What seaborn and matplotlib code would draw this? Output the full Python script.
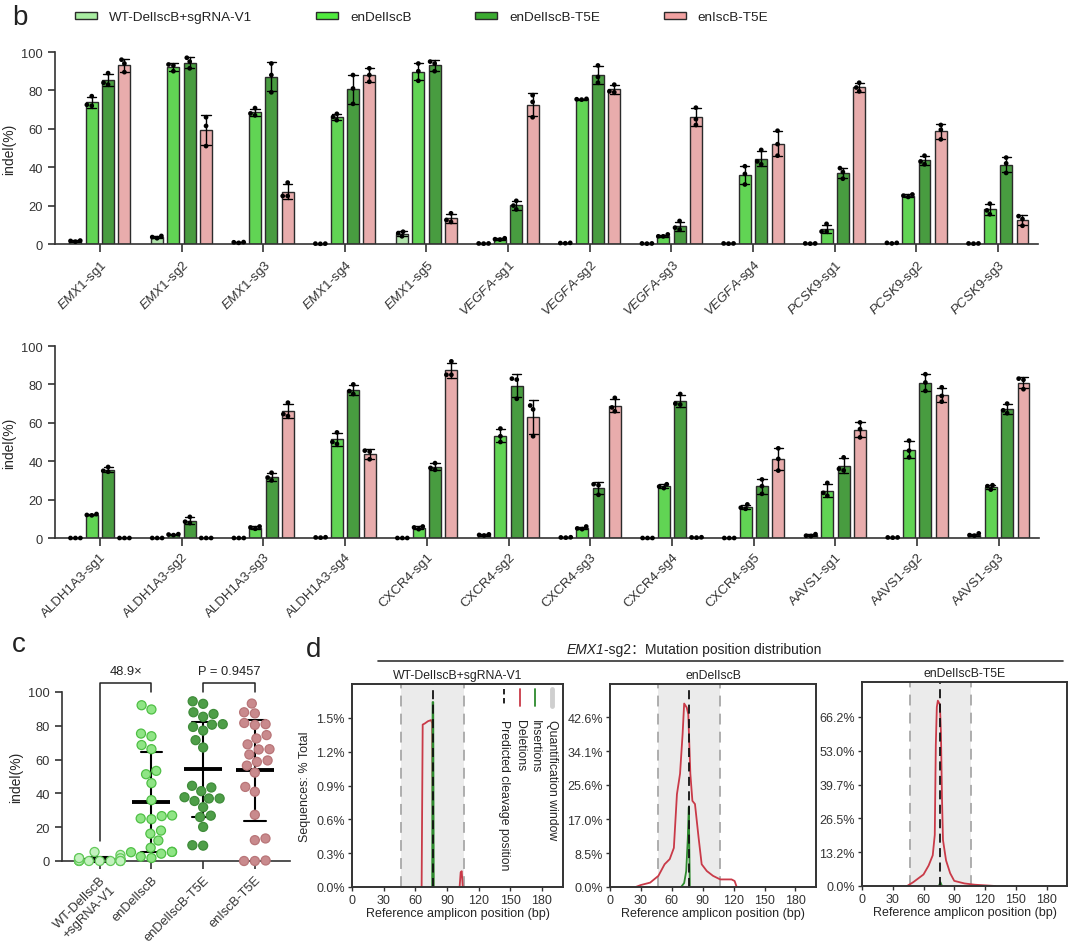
import warnings
import numpy as np
import pandas as pd
import matplotlib
matplotlib.use("Agg")
import matplotlib.pyplot as plt
from matplotlib.patches import Patch
from matplotlib.lines import Line2D
import seaborn as sns

warnings.filterwarnings("ignore")

# ---------------- data ----------------
conditions = ["WT-DelIscB+sgRNA-V1", "enDelIscB", "enDelIscB-T5E", "enIscB-T5E"]
bar_colors = ["#a8eda1", "#50ea3e", "#3bab31", "#f2a2a2"]

top_targets = ["EMX1-sg1", "EMX1-sg2", "EMX1-sg3", "EMX1-sg4", "EMX1-sg5", "VEGFA-sg1",
               "VEGFA-sg2", "VEGFA-sg3", "VEGFA-sg4", "PCSK9-sg1", "PCSK9-sg2", "PCSK9-sg3"]
bot_targets = ["ALDH1A3-sg1", "ALDH1A3-sg2", "ALDH1A3-sg3", "ALDH1A3-sg4", "CXCR4-sg1", "CXCR4-sg2",
               "CXCR4-sg3", "CXCR4-sg4", "CXCR4-sg5", "AAVS1-sg1", "AAVS1-sg2", "AAVS1-sg3"]

top_wt = [[1.2, 1.8, 1.6], [3.0, 4.2, 3.6], [0.6, 1.0, 0.9], [0.1, 0.2, 0.2], [4.0, 5.6, 6.4], [0.2, 0.3, 0.3],
          [0.4, 0.6, 0.5], [0.2, 0.3, 0.3], [0.2, 0.3, 0.3], [0.2, 0.3, 0.3], [0.3, 0.6, 0.6], [0.2, 0.3, 0.3]]
top_en = [[77, 72, 72.5], [93.5, 93, 90], [70.8, 68, 67], [67.8, 66.2, 64.5], [94, 90, 85], [3.0, 2.5, 2.3],
          [75.6, 75.2, 75.4], [5.0, 4.0, 4.0], [40.5, 36.5, 31], [10.5, 6.5, 6.5], [25.8, 25.2, 24.5], [21, 17.5, 15.5]]
top_t5e = [[89, 83, 84], [97, 95, 91.5], [94, 88, 79], [88, 81, 73], [95, 94, 90], [22.5, 20, 18],
           [93, 87, 84], [12, 8.5, 7.5], [49, 43, 41.5], [39.5, 37.5, 34], [46, 43, 41.5], [45, 42, 37]]
top_iscb = [[96, 94, 89.5], [66, 61.5, 51], [32, 25, 25], [91.5, 88, 84.5], [16, 12.5, 11.5], [77.5, 74, 66],
            [83, 79.5, 79], [71, 65, 62], [59, 52, 46], [84, 81.5, 79.5], [62, 59.5, 54.5], [14.5, 13, 9.5]]

bot_wt = [[0, 0, 0], [0, 0, 0], [0, 0, 0], [0.2, 0.4, 0.3], [0, 0, 0], [1.3, 1.9, 1.6],
          [0.2, 0.4, 0.3], [0, 0, 0], [0, 0, 0], [1.0, 1.2, 2.0], [0.2, 0.3, 0.3], [1.2, 1.5, 2.4]]
bot_en = [[12.5, 12, 11.8], [2.0, 1.8, 1.5], [6.0, 5.5, 4.8], [55, 50, 49], [6.0, 5.5, 4.6], [57, 53, 50],
          [6.0, 5.0, 4.6], [28, 26.8, 26], [17.5, 15.8, 15.2], [28.7, 23.5, 22], [50.7, 45.5, 42], [27.5, 27, 25.2]]
bot_t5e = [[37, 35, 34.5], [11, 8.5, 7.8], [34, 31.5, 30], [80, 76.5, 75], [39, 36.5, 35.5], [83, 82.5, 72.5],
           [28, 27.5, 22.5], [75, 70, 69.5], [30.5, 27, 23], [42, 36, 35.2], [85.3, 81, 76.6], [70, 66.5, 65]]
bot_iscb = [[0, 0, 0], [0, 0, 0], [70.5, 64.5, 63.5], [45.5, 45, 41], [92, 85, 85], [69, 67, 53],
            [73, 68, 66], [0.2, 0.4, 0.3], [46.7, 41.2, 35.1], [60.2, 56.7, 52.4], [78.5, 74, 71], [83, 82.4, 77.5]]

# panel c
c_labels = ["WT-DelIscB\n+sgRNA-V1", "enDelIscB", "enDelIscB-T5E", "enIscB-T5E"]
c_face = ["#c4f2bf", "#8fe585", "#4e9e48", "#c98a8d"]
c_edge = ["#63c95a", "#4fbf45", "#3f8c3a", "#b87578"]
c_brackets = [(0, 1, "48.9×"), (2, 3, "P = 0.9457")]
c_leg_low = [(12, 100), (100, 100)]

# panel d: CRISPResso mutation position distribution
d_titles = ["WT-DelIscB+sgRNA-V1", "enDelIscB", "enDelIscB-T5E"]
cut_site = 76.5
quant_window = (46.5, 106.5)
d_yticks = [[0.0, 0.3, 0.6, 0.9, 1.2, 1.5],
            [0.0, 8.5, 17.0, 25.6, 34.1, 42.6],
            [0.0, 13.2, 26.5, 39.7, 53.0, 66.2]]
d_ymax = [1.8, 50.9, 79.8]

d1_del_pos = [66, 67, 69, 72, 75, 76, 77]
d1_del_val = [0, 1.44, 1.45, 1.47, 1.48, 1.45, 0]
d1_bump_pos = [102, 103, 104, 105]
d1_bump_val = [0, 0.13, 0.14, 0]
d1_ins_pos = [76, 76.4, 77, 77.5]
d1_ins_val = [0, 1.64, 1.64, 0]

d2_del_pos = [25, 30, 39, 47, 53, 58, 62, 65, 68, 70.5, 72, 74.5, 76, 78, 80, 82.5, 86, 89, 94, 100,
              107, 118, 121, 123]
d2_del_val = [0, 0.5, 1.1, 2.8, 5.7, 7.0, 9.8, 23.3, 28.4, 38.4, 46.0, 45.0, 43.3, 28.4, 21.6, 20.8,
              12.4, 5.7, 4.0, 2.8, 1.9, 1.9, 1.5, 0]
d2_ins_pos = [69, 72, 74, 75.5, 76.5, 77.5]
d2_ins_val = [0, 1.0, 4.0, 12.0, 20.0, 0]

d3_del_pos = [44, 50, 55, 60, 65, 69, 71, 72, 73, 74, 76, 77, 78, 79, 82, 86, 90, 100, 110, 130]
d3_del_val = [0, 1.5, 3.0, 4.5, 8.0, 12.0, 20.0, 55.0, 70.0, 72.5, 71.0, 60.0, 35.0, 18.0, 10.0,
              5.0, 2.0, 1.0, 0.5, 0]
d3_ins_pos = [75, 76.5, 78]
d3_ins_val = [0, 1.5, 0]

# ---------------- style ----------------
sns.set_style("ticks")
plt.rcParams["font.family"] = ["Liberation Sans", "DejaVu Sans"]
plt.rcParams["mathtext.fontset"] = "custom"
plt.rcParams["mathtext.it"] = "Liberation Sans:italic"
plt.rcParams["mathtext.rm"] = "Liberation Sans"
plt.rcParams["axes.edgecolor"] = "#333333"
plt.rcParams["xtick.color"] = "#333333"
plt.rcParams["ytick.color"] = "#333333"
plt.rcParams["text.color"] = "#222222"

fig = plt.figure(figsize=(10.8, 9.45), dpi=100)
W, H = 1080, 945


def rect(x0, y0, x1, y1):
    # pixel box -> figure fraction
    return [x0 / W, 1 - y1 / H, (x1 - x0) / W, (y1 - y0) / H]


def long_df(targets, reps_by_cond):
    rows = []
    for cond, reps in zip(conditions, reps_by_cond):
        for t, trip in zip(targets, reps):
            for v in trip:
                rows.append((t, cond, v))
    return pd.DataFrame(rows, columns=["target", "condition", "indel"])


def bar_panel(ax, targets, reps_by_cond, italic):
    df = long_df(targets, reps_by_cond)
    sns.barplot(data=df, x="target", y="indel", hue="condition", order=targets,
                hue_order=conditions, palette=bar_colors, errorbar="sd", capsize=0.45,
                width=0.8, gap=0.27, err_kws={"color": "black", "linewidth": 1.0},
                edgecolor="#2b2b2b", linewidth=1.0, legend=False, ax=ax)
    sns.swarmplot(data=df, x="target", y="indel", hue="condition", order=targets,
                  hue_order=conditions, palette=["black"] * 4, dodge=True, size=3.4,
                  legend=False, ax=ax)
    for coll in ax.collections:
        coll.set_clip_on(False)
    for ln in ax.lines:
        ln.set_clip_on(False)
    ax.set_ylim(0, 100)
    ax.set_xlim(-0.55, 11.49)
    ax.set_yticks(range(0, 101, 20))
    if italic:
        labels = ["$\\mathit{%s}$-%s" % tuple(t.split("-")) for t in targets]
    else:
        labels = targets
    ax.set_xticks(range(len(targets)))
    ax.set_xticklabels(labels, rotation=45, ha="right", rotation_mode="anchor", fontsize=9.5)
    ax.tick_params(axis="x", length=6, width=1.2, pad=3)
    ax.tick_params(axis="y", length=5, width=1.2, labelsize=9.3)
    ax.set_xlabel("")
    ax.set_ylabel("indel(%)", fontsize=10)
    for s in ["left", "bottom"]:
        ax.spines[s].set_linewidth(1.2)
    sns.despine(ax=ax)


# ---------------- panel b ----------------
ax_top = fig.add_axes(rect(55, 53, 1038, 245))
bar_panel(ax_top, top_targets, [top_wt, top_en, top_t5e, top_iscb], italic=True)
ax_bot = fig.add_axes(rect(55, 347, 1039, 539))
bar_panel(ax_bot, bot_targets, [bot_wt, bot_en, bot_t5e, bot_iscb], italic=False)

handles = [Patch(facecolor=c, edgecolor="#2b2b2b", linewidth=1.0) for c in bar_colors]
fig.legend(handles, conditions, loc="center left", bbox_to_anchor=(75 / W, 1 - 18 / H),
           ncol=4, frameon=False, fontsize=9.7, handlelength=1.65, handleheight=0.45,
           handletextpad=0.9, columnspacing=4.7, borderpad=0, borderaxespad=0)

# ---------------- panel c ----------------
c_rows = []
for cond, reps in zip(conditions, [top_wt + bot_wt, top_en + bot_en, top_t5e + bot_t5e, top_iscb + bot_iscb]):
    for trip in reps:
        c_rows.append((cond, float(np.mean(trip))))
c_df = pd.DataFrame(c_rows, columns=["group", "indel"])

axc = fig.add_axes(rect(62, 693, 290, 862))
sns.swarmplot(data=c_df, x="group", y="indel", hue="group", order=conditions, hue_order=conditions,
              palette=c_face, size=6.5, linewidth=0.9, legend=False, ax=axc)
for coll, ec in zip(axc.collections, c_edge):
    coll.set_edgecolor(ec)
    coll.set_clip_on(False)
sns.pointplot(data=c_df, x="group", y="indel", order=conditions, errorbar="sd", capsize=0.42,
              color="black", marker="_", markersize=27, markeredgewidth=2.8, linestyle="none",
              err_kws={"linewidth": 1.5}, ax=axc)
for ln in axc.lines:
    ln.set_clip_on(False)
axc.set_ylim(0, 100)
axc.set_xlim(-0.73, 3.68)
axc.set_yticks(range(0, 101, 20))
axc.set_xticks(range(4))
axc.set_xticklabels(c_labels, rotation=45, ha="right", rotation_mode="anchor", fontsize=9.3)
axc.tick_params(axis="x", length=6, width=1.2, pad=3)
axc.tick_params(axis="y", length=5, width=1.2, labelsize=9.3)
axc.set_xlabel("")
axc.set_ylabel("indel(%)", fontsize=10)
for s in ["left", "bottom"]:
    axc.spines[s].set_linewidth(1.2)
sns.despine(ax=axc)

bracket_top = 105.5
for (g0, g1, txt), (low0, low1) in zip(c_brackets, c_leg_low):
    axc.plot([g0, g0, g1, g1], [low0, bracket_top, bracket_top, low1], color="#222222",
             lw=1.1, clip_on=False)
    axc.text((g0 + g1) / 2, bracket_top + 3.5, txt, ha="center", va="bottom", fontsize=9.3)

# ---------------- panel d ----------------
d_rects = [rect(352, 685, 563, 888), rect(610, 685, 816, 888), rect(862, 683, 1067, 887)]
d_series = [([(d1_del_pos, d1_del_val), (d1_bump_pos, d1_bump_val)], d1_ins_pos, d1_ins_val),
            ([(d2_del_pos, d2_del_val)], d2_ins_pos, d2_ins_val),
            ([(d3_del_pos, d3_del_val)], d3_ins_pos, d3_ins_val)]
del_color = "#c93a48"
ins_color = "#2d8a2d"

for i, (r, (dels, ip, iv)) in enumerate(zip(d_rects, d_series)):
    ax = fig.add_axes(r)
    ax.axvspan(*quant_window, color="#ebebeb", lw=0, zorder=0)
    for xw in quant_window:
        ax.axvline(xw, color="#a8a8a8", lw=1.3, dashes=(6, 4), zorder=1)
    for dp, dv in dels:
        sns.lineplot(x=dp, y=dv, color=del_color, lw=1.3, estimator=None, sort=False, ax=ax, zorder=3)
    sns.lineplot(x=ip, y=iv, color=ins_color, lw=1.3, estimator=None, sort=False, ax=ax, zorder=3)
    ax.axvline(cut_site, color="#111111", lw=1.3, ls=(0, (5, 3)), zorder=4)
    ax.set_xlim(0, 200)
    ax.set_ylim(0, d_ymax[i])
    ax.set_xticks(range(0, 181, 30))
    ax.set_yticks(d_yticks[i])
    ax.set_yticklabels([f"{v:.1f}%" for v in d_yticks[i]])
    ax.tick_params(length=3, width=1, labelsize=9, pad=2)
    for s in ax.spines.values():
        s.set_linewidth(1.4)
        s.set_color("#333333")
        s.set_zorder(6)
    ax.set_xlabel("Reference amplicon position (bp)", fontsize=9, labelpad=1)
    ax.set_ylabel("Sequences: % Total" if i == 0 else "", fontsize=9)
    ax.set_title(d_titles[i], fontsize=8.8, pad=4)
    if i == 0:
        # rotated legend inside the first box
        leg_items = [(0.72, "Predicted cleavage position", "#111111", (0, (3, 2)), 1.3),
                     (0.796, "Deletions", del_color, "-", 1.3),
                     (0.867, "Insertions", ins_color, "-", 1.3),
                     (0.948, "Quantification window", "#cfcfcf", "-", 3.5)]
        for xa, lab, col, ls, lw in leg_items:
            ax.plot([xa, xa], [0.975, 0.89], transform=ax.transAxes, color=col, ls=ls, lw=lw,
                    clip_on=False, zorder=5)
            ax.text(xa, 0.83, lab, transform=ax.transAxes, rotation=-90, ha="center", va="top",
                    fontsize=8.8, zorder=5)

# d super title with rule
ty = 1 - 650 / H
fig.text(604 / W, ty, "EMX1", style="italic", ha="right", va="center", fontsize=10)
fig.text(604 / W, ty, "-sg2\uff1aMutation position distribution", ha="left", va="center",
         fontsize=10, family=["Liberation Sans", "Noto Sans CJK SC"])
fig.add_artist(Line2D([378 / W, 1063 / W], [1 - 662 / H] * 2, transform=fig.transFigure,
                      color="#333333", lw=1.2))

# panel letters
fig.text(12 / W, 1 - 25 / H, "b", fontsize=20, va="baseline")
fig.text(12 / W, 1 - 652 / H, "c", fontsize=20, va="baseline")
fig.text(306 / W, 1 - 657 / H, "d", fontsize=20, va="baseline")

fig.savefig("out.png", dpi=100)
plt.close(fig)
